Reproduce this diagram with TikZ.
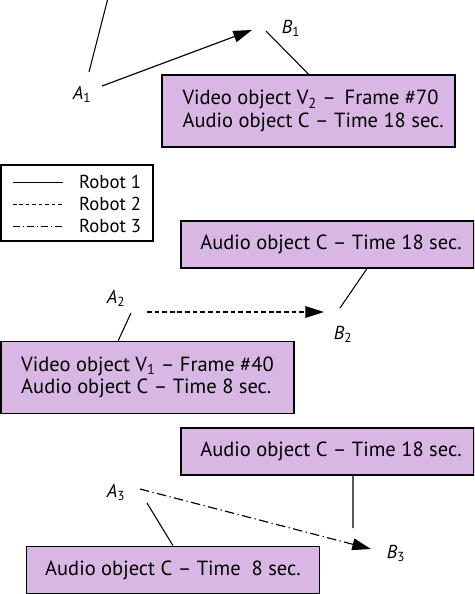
\documentclass[tikz,border=0pt]{standalone}
\usepackage{fontspec}
\setmainfont{PT Sans}
\usetikzlibrary{arrows.meta}

\definecolor{boxpurple}{RGB}{216,183,228}

\begin{document}
\begin{tikzpicture}[x=0.03cm, y=-0.03cm,
    every node/.style={font=\fontsize{17.5}{19}\selectfont},
    objbox/.style={draw, line width=1.4pt, fill=boxpurple, inner sep=0pt,
      minimum width=8.79cm},
    twoline/.style={objbox, minimum height=2.16cm, align=left},
    oneline/.style={objbox, minimum height=1.41cm},
    pt/.style={font=\fontsize{16}{19}\selectfont\itshape},
    track/.style={line width=1pt, -{Triangle[length=16pt, width=10pt]}},
    link/.style={line width=0.9pt}]

  \clip (0,0) rectangle (474,594);

  % Robot 1
  \node[twoline] (box1) at (308.5,111) {\hspace{8pt}Video object V\textsubscript{2} --\, Frame \#70\\\hspace{8pt}Audio object C -- Time 18 sec.};
  \node[pt] (A1) at (82,94) {A\textsubscript{\upshape 1}};
  \node[pt] (B1) at (291,28) {B\textsubscript{\upshape 1}};
  \coordinate (a1) at (102,86);
  \coordinate (b1) at (252,30);
  \coordinate (a1top) at (108,-2);
  \coordinate (a1end) at (89,72);
  \coordinate (b1end) at (266,31);
  \draw[link] (a1top) -- (a1end);
  \draw[track] (a1) -- (b1);
  \draw[link] (b1end) -- (box1.north);

  % Legend
  \draw[line width=0.9pt] (1,165) rectangle (153,241);
  \node[anchor=west, font=\fontsize{16}{19}\selectfont] (leg1) at (75,182) {Robot 1};
  \node[anchor=west, font=\fontsize{16}{19}\selectfont] (leg2) at (75,204) {Robot 2};
  \node[anchor=west, font=\fontsize{16}{19}\selectfont] (leg3) at (75,226) {Robot 3};
  \draw[line width=0.8pt] (13,182) -- (63,182);
  \draw[line width=0.8pt, dash pattern=on 3pt off 2.5pt] (13,204) -- (63,204);
  \draw[line width=0.8pt, dash pattern=on 6pt off 2.5pt on 1pt off 2.5pt] (13,226) -- (63,226);

  % Robot 2
  \node[oneline] (boxc2) at (327.5,244.5) {\hspace{6pt}Audio object C -- Time 18 sec.};
  \node[twoline] (box2) at (147.5,377.5) {Video object V\textsubscript{1} -- Frame \#40\\Audio object C -- Time 8 sec.};
  \node[pt] (A2) at (116,298) {A\textsubscript{\upshape 2}};
  \node[pt] (B2) at (343,334) {B\textsubscript{\upshape 2}};
  \coordinate (a2) at (147,312);
  \coordinate (b2) at (324,312);
  \coordinate (a2end) at (131,313);
  \coordinate (b2end) at (340,308);
  \draw[track, dash pattern=on 4pt off 2.5pt] (a2) -- (b2);
  \draw[link] (b2end) -- ([xshift=1.18cm]boxc2.south);
  \draw[link] (a2end) -- ([xshift=-0.88cm]box2.north);

  % Robot 3
  \node[oneline] (boxc3) at (327.5,451.5) {\hspace{6pt}Audio object C -- Time 18 sec.};
  \node[oneline] (box3) at (173,570) {Audio object C -- Time\ \ 8 sec.};
  \node[pt] (A3) at (116,492) {A\textsubscript{\upshape 3}};
  \node[pt] (B3) at (396,553) {B\textsubscript{\upshape 3}};
  \coordinate (a3) at (140,489);
  \coordinate (b3) at (371,549);
  \coordinate (a3end) at (147,503);
  \coordinate (b3end) at (353,528);
  \draw[track, dash pattern=on 8pt off 3pt on 1pt off 3pt] (a3) -- (b3);
  \draw[link] (b3end) -- ([xshift=0.765cm]boxc3.south);
  \draw[link] (a3end) -- (box3.north);

\end{tikzpicture}
\end{document}
